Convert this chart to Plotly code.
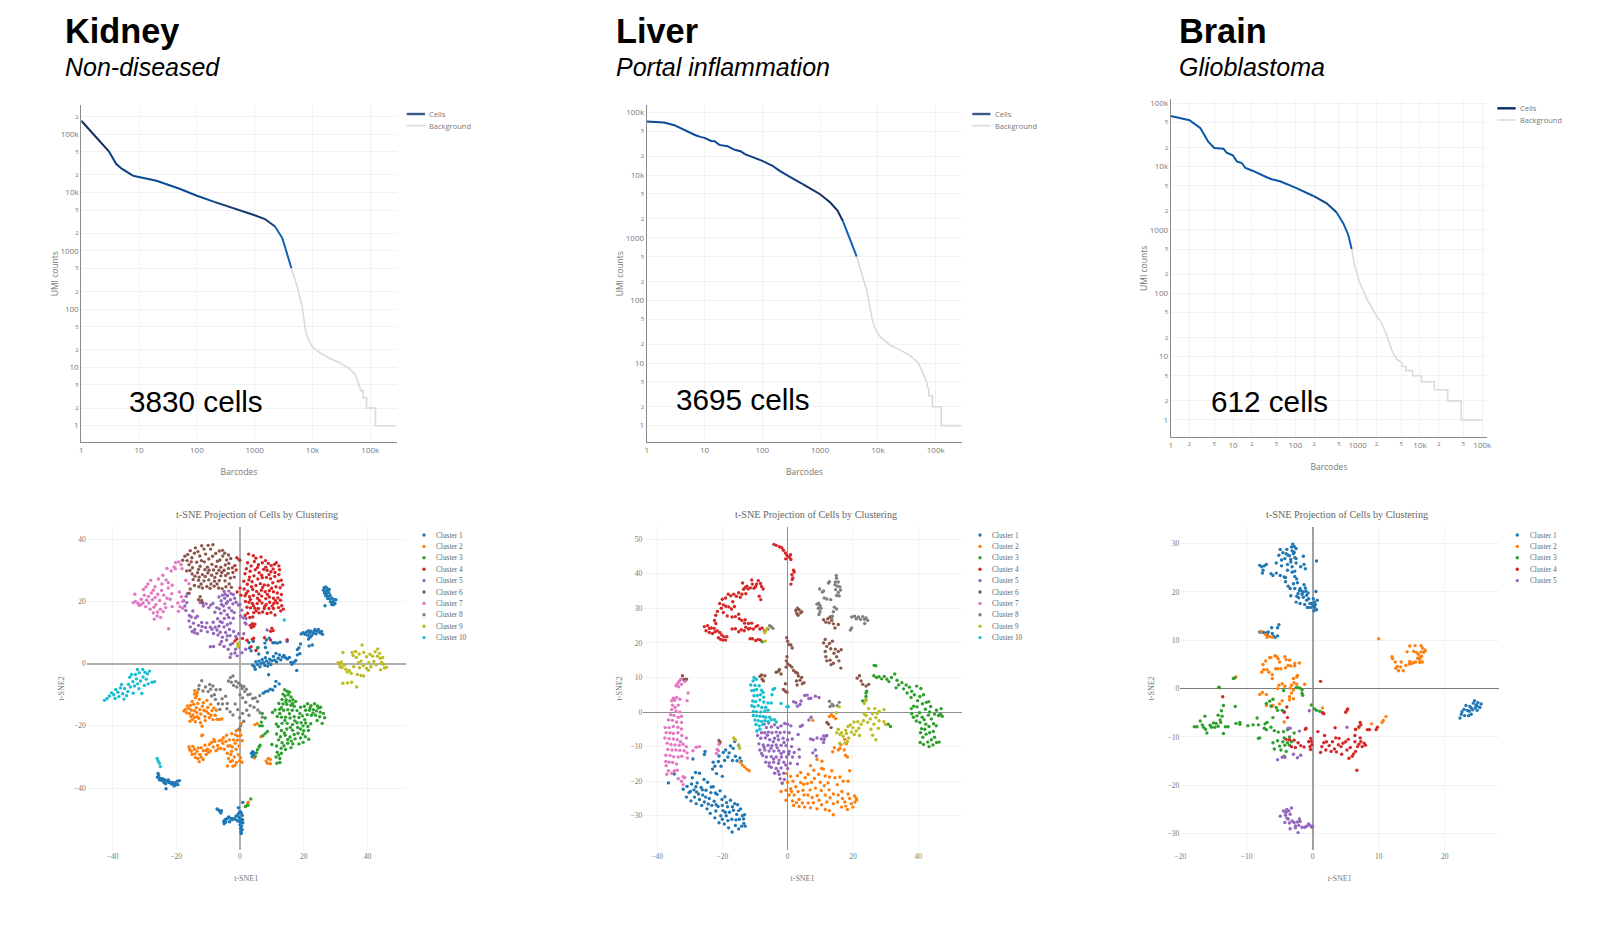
import plotly.graph_objects as go

W, H = 1600, 929
PALETTE = ["#1f77b4", "#ff7f0e", "#2ca02c", "#d62728", "#9467bd",
           "#8c564b", "#e377c2", "#7f7f7f", "#bcbd22", "#17becf"]

# ---- Barcode rank plots: rank and UMI count along each curve ----
KIDNEY_CELL_RANK = [1, 3, 4, 5, 7.8, 10, 20, 50, 100, 200, 500, 1000, 1500, 2000, 2250, 2500, 2750, 3000, 3250, 3500, 3900, 4325]
KIDNEY_CELL_UMI = [170000, 50700, 31000, 25600, 19400, 18400, 15900, 11600, 8800, 6900, 5200, 4070, 3500, 2870, 2600, 2200, 1900, 1650, 1280, 1000, 730, 500]
KIDNEY_BG_RANK = [4325, 5420, 6610, 7560, 8300, 9860, 13800, 20500, 30600, 42800, 55700, 64000, 69000, 75000, 75000, 86000, 86000, 123000, 123000, 275000]
KIDNEY_BG_UMI = [500, 244, 110, 44, 31.6, 22.7, 17.5, 14.1, 11.8, 9.6, 7.4, 5, 4, 4, 3, 3, 2, 2, 1, 1]

LIVER_CELL_RANK = [1, 2, 3, 5, 7, 8.5, 10, 13, 15, 18, 25, 33, 42, 50, 100, 150, 200, 300, 500, 700, 1000, 1500, 2000, 2500, 3000, 4300]
LIVER_CELL_UMI = [71800, 69300, 62800, 49700, 43400, 40800, 39400, 35200, 34800, 30400, 29000, 25400, 24100, 21600, 16900, 14100, 11700, 9400, 7200, 6100, 4960, 3650, 2720, 1815, 1180, 500]
LIVER_BG_RANK = [4300, 5230, 6380, 7780, 8900, 10900, 16200, 24100, 35900, 50000, 61000, 70000, 72000, 76000, 76000, 87500, 87500, 125000, 125000, 282000]
LIVER_BG_UMI = [500, 271, 147, 55, 35.9, 26.4, 19.4, 16.2, 13.1, 10.1, 6.9, 5, 4, 4, 3, 3, 2, 2, 1, 1]

BRAIN_CELL_RANK = [1, 2, 3, 4, 5, 7, 7.9, 9.9, 11.5, 13.8, 15.8, 18.3, 21, 34.7, 41.7, 56.8, 100, 195, 318, 460, 589, 708, 801]
BRAIN_CELL_UMI = [63000, 53900, 40300, 24800, 19700, 19200, 16600, 15100, 12100, 11400, 9500, 8860, 8540, 6790, 6310, 5870, 4660, 3440, 2640, 1880, 1270, 834, 500]
BRAIN_BG_RANK = [801, 906, 1060, 1390, 1900, 2430, 2920, 3510, 4230, 4900, 5100, 5100, 5960, 5960, 7620, 7620, 10600, 10600, 17000, 17000, 27800, 27800, 46000, 46000, 100000]
BRAIN_BG_UMI = [500, 264, 153, 83, 48, 33.6, 22, 12.7, 9.1, 8, 8, 7, 7, 6, 6, 5, 5, 4, 4, 3, 3, 2, 2, 1, 1]

# Rank at which each colour band of the cell curve ends
KIDNEY_BANDS = [(3, "#0f2a5c"), (7.8, "#0b3f86"), (200, "#0a4a99"), (2250, "#123a73"), (4325, "#0f62b5")]
LIVER_BANDS = [(33, "#0b4a99"), (500, "#0d3f85"), (2500, "#122f63"), (4300, "#0f62b5")]
BRAIN_BANDS = [(195, "#0b56a6"), (460, "#114a8c"), (801, "#0c5fb2")]

# ---- t-SNE projections: (t-SNE1, t-SNE2) of cells per cluster ----
KIDNEY_C1 = [(26.4,24.4),(26.9,24.6),(27.3,24.2),(26.2,23.6),(26.8,23.3),(27.4,23.5),(28,23.8),(26.5,22.7),(27.2,22.5),(27.9,22.8),(26.9,21.8),(27.6,21.6),(28.3,21.9),(27.5,20.9),(28.2,20.8),(28.9,21),(29.6,20.5),(30.1,20.5),(28.4,19.9),(29.1,19.8),(29.8,19.3),(29.3,18.9),(28.8,19),(26.7,18.6),
(19.2,9.5),(19.8,9.9),(20.4,9.4),(20.8,10.1),(21.3,9.1),(21.9,9.8),(22.3,10.4),(22.5,9),(23,9.7),(23.4,10.5),(23.9,9.6),(24.3,10.6),(24.8,10.2),(25.2,9.8),(25.6,10.3),(21.5,10.6),(22,8.5),(23.5,11),(24.6,11),(25.9,9.4),(21.5,7.9),(22.7,6),(21.7,5.7),(19,6.3),(18.5,5.1),(18,4.5),
(4,-0.5),(4.5,-1),(4.8,-1.8),(5,0.6),(5.5,-0.3),(6,0.8),(6.3,-1),(6.7,0.1),(7,1.3),(7.4,0.3),(7.8,-0.6),(8,1.9),(8.3,0.8),(8.7,-0.8),(9,0.2),(9.3,1.4),(9.7,-0.3),(10,0.9),(10.5,2.3),(10.9,1.1),(11.3,3.3),(11.5,0.5),(12,1.7),(12.4,2.8),(12.8,1.2),(13.3,2.1),(13.8,2.6),(14.3,1.9),(14.9,1.5),(15.5,2),(16,0.4),(16.5,0.2),(17,0.5),(17.5,1),(18,2.8),(18.8,3.2),(16.3,-0.2),(17.8,-2.2),
(2.8,6.8),(3,5),(3.5,4.1),(5.5,5),(5.9,3.1),(7.8,6.6),(8,5.2),(8.6,3.5),(10.3,6.7),(11,6.7),(11.8,6.6),(12.6,6.9),(14.8,7.2),(9.2,8.2),(8.3,7.6),(4.2,7.2),(9,-3.6),(8,-9),(8.8,-8.8),(9.5,-8.2),(10.3,-8.5),(11,-7.3),(11.3,-5.7),(12.3,-6.5),(7.3,-9.5),
(-25.7,-35.3),(-25.5,-36),(-25.9,-36.5),(-25,-36.9),(-25.3,-37.3),(-24.7,-37.5),(-24.3,-37),(-24,-37.8),(-23.6,-37.3),(-23.8,-38.3),(-23.3,-38.6),(-22.9,-37.7),(-22.5,-37.4),(-22.3,-38.2),(-21.8,-38.1),(-21.5,-38.7),(-21,-38.2),(-20.6,-38.6),(-20.3,-39),(-20,-38.1),(-19.6,-37.8),(-19,-37.6),(-19.5,-38.9),(-23.2,-40.2),(-20.7,-39.3),
(-7.2,-46.7),(-6.8,-47),(-6.3,-47.5),(-6,-48),(-5.8,-47.3),(-5,-51.5),(-5.1,-50.7),(-4.7,-50.2),(-4.3,-50),(-4.5,-51),(-3.8,-49.6),(-3.3,-50.8),(-3.5,-49.3),(-2.8,-49.8),(-2.5,-50.2),(-2.1,-49.8),(-1.5,-50),(-1.3,-49),(-0.8,-48.9),(-0.5,-48.2),(0,-47.5),(0.4,-48),(0.7,-48.8),(-0.2,-49.5),(0.3,-50),(0.8,-50.2),(-0.3,-50.7),(0.5,-51),(0.9,-51.2),(0,-51.8),(0.5,-52.3),(0.2,-53),(0.7,-53.4),(0.3,-54),(0.4,-54.6),(-0.8,-50.5),(-0.5,-46.3),(0.9,-44.6),
(3.6,-28.8),(4,-28.3),(4.1,-29.3),(3.8,-29.9),(4.4,-30),(4.5,-28.8)]
KIDNEY_C2 = [(-14.2,-8.7),(-14.3,-9.8),(-14,-11),(-13.6,-10.3),(-15,-12.2),(-14.5,-13.1),(-15.5,-13.4),(-16,-14.4),(-17,-14.7),(-17.6,-15.2),(-16.8,-15.8),(-15.9,-16),(-15.2,-15),(-14.8,-16.5),(-14.3,-17.3),(-15,-18),(-15.7,-18.5),(-14,-18.7),(-13.5,-15.8),(-13.7,-14.2),(-13.2,-12.8),(-12.8,-11.5),(-12.6,-14.8),(-12.3,-16.2),(-12.9,-17.6),(-12.4,-19),(-11.9,-20.1),(-11.5,-12.6),(-11.3,-15),(-11,-17),(-10.9,-18.3),(-10.4,-11.8),(-10.1,-14.1),(-9.9,-16),(-9.6,-17.4),(-9.2,-13.1),(-8.8,-15.1),(-8.5,-18),(-8.2,-14.3),(-7.8,-16.6),(-7.4,-15),(-7.2,-17.9),(-6.5,-18),(-5.7,-17.8),(-13.4,-9.3),(-16.5,-13.6),
(-16,-26.7),(-15.8,-27.6),(-15.3,-28.2),(-14.8,-26.6),(-15,-29.2),(-14.3,-27.5),(-14.1,-29),(-14,-30.2),(-13.5,-28.2),(-13.2,-30.5),(-12.8,-31.5),(-12.6,-29.2),(-12.2,-27),(-12,-23.2),(-11.7,-22.9),(-11.5,-28),(-11.6,-30.8),(-11,-26.2),(-10.6,-29.2),(-10.2,-27.5),(-9.6,-26),(-9.3,-28.1),(-8.9,-25.3),(-8.4,-26.8),(-7.9,-25),(-7.5,-28),(-7,-26.3),(-6.5,-24.8),(-6,-27.2),(-5.4,-25.6),(-5.2,-23.8),(-4.9,-27.5),(-4.4,-25),(-4.2,-23),(-4,-28.8),(-3.8,-26.5),(-3.6,-30.5),(-3.9,-32.9),(-3.3,-24.5),(-3,-31.5),(-2.9,-29.2),(-2.6,-22.5),(-2.4,-26.8),(-2.2,-33),(-2,-24.5),(-1.8,-30),(-1.4,-22.9),(-1.2,-27.5),(-1.1,-31.8),(-0.8,-24.6),(-0.5,-29.3),(-0.1,-31.2),(0,-21.5),(0.3,-23),(0.4,-19.2),(0.2,-30.2),(0.6,-31.7),(0.7,-24.8),(-0.4,-21.1),(-1.2,-21.6),
(8.2,-31.3),(8.9,-30.5),(9.5,-30.8),(8.6,-32),(9.5,-32.2),(4.5,-30.3),(4.7,-19.6),(5.4,-19.3),(6.6,-23.5),(2.6,-44.5),(2.4,-45),
(-13.1,-27.1),(-12.2,-30),(-10.7,-27.9),(-9.9,-28.6),(-8.2,-24.4),(-6.8,-27.4),(-5.7,-24.6),(-3.1,-26.4),(-2.4,-31.2),(-1.6,-32.7),(-1.5,-25.6),(-2.6,-28.2),(-0.3,-26.5),(-0.7,-23.3),(-15.4,-17),(-13.4,-17.1),(-10.6,-15.3),(-11.8,-13.7),(-9.1,-16.6),(-14.2,-15.2)]
KIDNEY_C3 = [(13.5,-9.8),(14,-8.4),(14.8,-8.9),(15.5,-9.2),(14.1,-10.4),(15.1,-10),(16,-10.7),(13.2,-11.5),(14.5,-11.6),(15.6,-12),(16.6,-11.6),(17.5,-12.2),(12.2,-12.8),(13.5,-13),(14.7,-13.1),(16,-13.4),(17,-13.7),(11,-14.9),(12.4,-14.7),(13.7,-15),(15,-14.8),(16.4,-15),(17.9,-15.1),(19,-14),(20.2,-13.7),(21.2,-12.9),(22.3,-13.5),(23.4,-12.9),(24.3,-13.6),(25.3,-14),(20.6,-15),(21.8,-15),(23,-14.8),(24,-15.2),(25.2,-15.6),(26.2,-16),(21.1,-16.4),(22.4,-16.6),(23.7,-16.6),(25,-17.1),(26.6,-17.4),(24.2,-18.3),(25.8,-19.2),(10.2,-15.7),(7.9,-17.5),(7,-16),(6.7,-18.8),(6.2,-20),(7,-20),(11.7,-17),(13,-17.2),(14.3,-17.2),(15.7,-17.5),(17,-17.1),(18.5,-17.3),(19.6,-16.8),(20.3,-18),(19.2,-19),(17.9,-19),(16.5,-19.6),(14.8,-19.2),(13.2,-19.2),(12,-20.2),(18.1,-20.5),(19.8,-20),(21.3,-20.2),(22.2,-19.3),(21.5,-21.5),(20,-21.6),(18.2,-22.4),(16.5,-21.4),(14.7,-21),(13,-21.5),(11.5,-22.6),(7.9,-22.5),(8.6,-21.8),(7.2,-23.2),(12.7,-23.5),(14.2,-23),(15.7,-23.6),(17.3,-24.2),(19,-23.9),(20.5,-23.5),(21.6,-24.3),(19.8,-25.3),(18.5,-25.8),(16.6,-25.8),(15,-25.6),(13.2,-25.4),(10,-26),(11.5,-26.5),(12.9,-27.2),(14.3,-27.6),(16,-27),(11.7,-28.5),(13,-28.8),(12.5,-30.5),(11.3,-30),(11.6,-32),(12.5,-31.8),(5.5,-27.7),(5.2,-28.7),(4.8,-29.8),(5.7,5.2),(6,-26.8),(6.3,-26.2),(3.4,-43.5),(2.5,-45.5),(1.7,-45.9),
(14.4,-12.3),(16.5,-12.8),(13,-14.2),(15.5,-16.1),(12.5,-16),(18.8,-16),(22.9,-15.9),(24.6,-14.3),(22,-14.2),(17.2,-18.4),(14.1,-18.3),(11.4,-19.4),(15.8,-20.5),(20.6,-19.1),(19,-21),(13.9,-22.3),(17,-22.8),(15,-24.4),(19.7,-22.6),(12.1,-24.5),(16.1,-24.9),(13.8,-26.4),(12.2,-29.4)]
KIDNEY_C4 = [(2.7,35.2),(4.2,34.7),(5,33.9),(6.6,34.3),(2.4,32.4),(3.5,31.4),(4.5,32.8),(5.8,31.8),(7,32.4),(8,33.1),(8.9,32.2),(9.8,31.5),(10.8,31.9),(11.4,32.4),(12.2,31.4),(2,30.5),(3.2,29.7),(4.8,30.2),(6,29.2),(7.4,30.3),(8.5,30),(9.7,29.5),(11,29.3),(12.4,30.2),(1.6,28.9),(3,27.8),(4.4,28.2),(5.6,27.2),(7,27.6),(8.3,27.7),(9.6,27.3),(10.9,28),(12.2,28.6),(12.9,26.8),(12,26.5),(13.4,25.3),(1.2,26.5),(2.3,25.5),(3.8,26.3),(5,25.1),(6.4,25.7),(7.6,25.3),(8.8,25.2),(10.3,26),(11.3,24.7),(12.6,24.4),(0,24.3),(1.3,24),(2.5,23.3),(4,23.8),(5.2,23.2),(6.7,23.6),(7.9,23.1),(9.2,23.4),(10.5,23.1),(11.7,22.7),(13,22.2),(-0.9,23),(0.3,22),(1.6,21.8),(3,21.5),(4.2,21.9),(5.5,21),(6.8,21.7),(8.1,20.9),(9.2,21.4),(10.5,21),(11.9,21.1),(12.7,20.4),(1.7,20),(2.8,19.7),(3.9,19.3),(5.4,19.3),(6.9,19.5),(8.2,19),(9.3,19.7),(10.6,19.3),(11.7,19.5),(13.1,18.6),(13.6,17.5),(2.2,18.1),(3.3,17.9),(4.7,17.8),(5.8,17.7),(7.6,17.7),(9.1,17.7),(10.5,17.7),(12.8,16.9),(2.4,16.2),(4.3,16.4),(6,16.3),(8.5,16.1),(9.7,16.4),(11,15.6),(1.6,15.5),(4,15),(3.9,12.8),(4.3,12),(3.2,12.3),(3.6,11.6),(4.7,12.7),(10,11.4),(9.6,10.4),(10.4,10.6),(-1,7.9),(-1.6,7.3),(0.8,8.1),(2.2,7.5),(3.9,7.8),(4.3,8.2),(7.7,8.3),(9.6,7.6),(14.8,7.7),(3.5,5.4),(5,4.2),(-1,34),(-0.3,33.4),(-1.6,31.5),(-1.2,30.1),
(5.5,30.9),(6.8,28.4),(9.1,28.6),(3.6,24.7),(7.1,24.5),(9.9,24.2),(2,22.6),(5.9,22.4),(8.6,22.2),(11.1,20.2),(3.3,20.6),(6.1,20.3),(7.8,18.4),(4.2,18.6),(10.1,18.5),(12.1,18),(5.1,16.9),(7.1,16.6),(3.1,14.8),(8.1,31),(10.4,30.4),(2.8,26.9)]
KIDNEY_C5 = [(-16.5,22.5),(-16.9,21.6),(-17.7,20.2),(-16.7,19.6),(-17.3,18.5),(-17,17.1),(-15.9,15.5),(-15.3,15),(-14.8,16.9),(-14,14.7),(-13.4,15.2),(-14.6,13),(-16,13.7),(-15.6,11.8),(-15,10.3),(-14.2,11),(-13.3,9.6),(-12.2,10.6),(-13,12.3),(-12,13.2),(-11.5,18.5),(-12.5,19.6),(-10.6,19.2),(-9.8,18),(-9.3,11.7),(-10.2,10.2),(-8.8,11),(-7.8,11.7),(-7.2,10.8),(-6.6,12),(-6.2,10.1),(-8.5,19.3),(-7.3,18),(-7.9,16.5),(-6.5,17.6),(-5.9,20.2),(-6.6,21.4),(-5.5,22),(-5,23.2),(-4.8,21),(-4.3,19.3),(-5.2,18.5),(-3.9,21.8),(-3.5,23.3),(-3,20.5),(-2.8,22.5),(-2.2,19.2),(-1.7,21),(-1.2,19.7),(-0.5,18.8),(0,19),(0.6,17.2),(-3.4,17.9),(-2.6,17),(-1.8,16.4),(-4,15.7),(-4.9,14.5),(-3.5,14.8),(-5.6,13.2),(-5,11.8),(-4,12.5),(-3,13),(-4.5,10),(-5.5,8.5),(-5.8,7.1),(-6.3,6.2),(-5,5.5),(-4.2,7.6),(-3.7,4.6),(-3,6.1),(-3.1,9),(-2,10.3),(-1.3,8.7),(-0.4,9.6),(1.2,9.6),(-2.3,6.5),(-1.4,4.6),(-2.8,3.1),(-1.6,3.4),(-0.9,2.5),(-0.5,5.3),(0.6,3.5),(1.8,4.6),(-3.1,2),(-9.3,5.4),(-8.3,5.5),(0.2,15.3),(1,14.7),(1.9,14.5),(1.9,12.7),(1.6,13.1),(8.5,10.8),(-10.4,13.1),
(-4.6,22.3),(-3.9,19.9),(-4.9,17),(-6,16.2),(-7,14.4),(-10.8,11.6),(-11.9,11.9),(-8.3,9.7),(-6.9,9.2),(-9.2,18.8),(-2.1,14.6),(-3.3,11),(-6.2,13.5),(-8.4,13.3),(-5.8,19),(-2.1,22.2),(-14.2,9.9),(-4,8.9)]
KIDNEY_C6 = [(-18,33.2),(-17.3,34.5),(-16.6,33.1),(-16.4,35.1),(-15.6,36.3),(-15.1,34),(-14.3,35.5),(-14,37.2),(-13.2,36),(-12.6,34.6),(-12,37.9),(-11.3,36.8),(-10.8,35.2),(-10,38),(-9.2,36.8),(-8.5,38.2),(-8.6,34.5),(-9.8,33.6),(-7.6,35.4),(-6.5,36.2),(-5.5,36.4),(-5.4,34.6),(-6.3,33.3),(-4.8,35.5),(-3.6,34.9),(-2.9,33.8),(-3.5,32.2),(-4.6,31.7),(-16,31.8),(-14.9,30.8),(-13.6,32.6),(-12.5,31.3),(-11.2,32.7),(-10.2,31),(-8.8,31.9),(-7.5,31.2),(-6,31),(-5,30),(-3.6,30.6),(-2.4,30.8),(-2.2,29.3),(-16.7,29.8),(-15,28.8),(-13.3,29.2),(-11.8,28.6),(-10.1,29.1),(-8.9,28.4),(-7.3,29),(-6,28.2),(-4.5,28.3),(-3,27.5),(-1.8,27.8),(-14.7,27),(-13,26.8),(-11.3,26.6),(-9.8,26.9),(-8,26.5),(-6.5,26.7),(-4.7,26.6),(-3.4,25.6),(-2.7,24.5),(-14.3,25.1),(-12.9,24.7),(-11.8,24.3),(-10.4,24.8),(-9.4,24.2),(-8.1,24.9),(-6.7,24.3),(-5.6,24.1),(-4.4,24.7),(-15.6,24),(-16,22.6),(-12.5,21.5),(-12,20.3),(-11.7,19.5),(-13,20.5),(0,33.2),(-12.8,27.8),
(-15.3,32.7),(-12.1,33.1),(-13,30.3),(-9.7,30),(-7.1,32.9),(-5.7,29.3),(-7.9,27.7),(-10.9,28),(-15.7,29.9),(-12.2,25.6),(-7.2,25.6),(-9.1,25.6),(-4.2,33.3),(-11,30.2),(-8.3,30.1),(-14.1,28.1),(-3.7,29),(-6.6,30)]
KIDNEY_C7 = [(-33.5,19.6),(-32.8,20),(-32,19.4),(-31.7,18.7),(-33,22.3),(-31,20.7),(-30.4,19.5),(-30,22),(-29.6,18.3),(-30.3,23.8),(-29.5,24.6),(-28.7,21.6),(-28.6,19.5),(-28.2,17.5),(-28.9,25.6),(-28,26.8),(-27.8,22.7),(-27.5,20.5),(-27.2,16.3),(-26.9,14.3),(-26.7,24.7),(-26.4,18.9),(-26,15.3),(-25.8,22.3),(-25.6,27.2),(-25.2,20.3),(-25,17.5),(-24.9,14.8),(-24.5,25.6),(-24.2,28.4),(-23.9,22),(-23.6,19.2),(-23.3,18),(-22.9,30.6),(-22.5,26),(-22.5,24.3),(-21.9,20.7),(-21.6,29.8),(-21.4,22.5),(-21.3,18.3),(-22.4,11.2),(-20.7,31.1),(-20.2,32.5),(-19.2,32.7),(-18.2,30.5),(-18.8,18.3),(-19.5,19.5),(-18.4,21.5),(-19,23),(-18,20),(-19.3,16.8),(-18,17.8),(-17,26.8),(-16,25.7),(-18.5,31.8),
(-27,18.1),(-25.9,16.6),(-24.1,16.7),(-24.6,23.5),(-23.2,26.9),(-27.2,23.6),(-29.3,20.4),(-22.9,21),(-20.3,30.5),(-21.3,25.2),(-26.6,21.3),(-31.1,18.9)]
KIDNEY_C8 = [(-12,-5.5),(-12.8,-7),(-13,-8.2),(-11.6,-8.8),(-10.8,-7.5),(-10,-9),(-9.5,-6.7),(-9.2,-8.2),(-8.5,-7.2),(-8.9,-10.4),(-8,-10),(-7.5,-8.4),(-7.7,-11.5),(-6.8,-12.9),(-6.2,-8.3),(-5.6,-11.3),(-6.3,-14.7),(-5.5,-13),(-4.5,-10.5),(-4.1,-14.5),(-3.6,-5.6),(-4,-12.8),(-3,-4.5),(-2.7,-6),(-2.2,-4),(-2,-7),(-1.3,-5.7),(-1,-7.5),(-3.1,-15.5),(-2.2,-16.5),(-1.5,-13),(-0.7,-14.8),(-0.4,-6.3),(0.3,-7),(0.7,-8),(1.2,-7.3),(1.5,-9),(2,-8.2),(2.5,-10),(0,-10),(0.8,-11),(1.8,-12.4),(3.2,-9.8),(4,-11.2),(4.8,-11),(5.5,-12.2),(6.2,-10.3),(3.2,-13.5),(2.1,-15),(0.8,-16),(-0.1,-17.4),(4.4,-14),(5.6,-14.9),(2.8,-16.6),(1.2,-18.5),(0.2,-20),(-0.2,-21),(6.3,-15.8),(7,-17.2)]
KIDNEY_C9 = [(30.8,0.3),(31.3,-0.2),(31.8,0.5),(31.4,-1),(32,-1.3),(32.3,3.6),(32.7,-0.5),(33.2,-1.8),(33.7,-2.7),(34.3,-2.2),(34.9,-3.1),(33.7,-6.2),(32.3,-6.3),(35,-6),(35.2,3.6),(35.5,2.6),(35.7,-1),(36.3,3.9),(36.5,2),(36.8,-3.5),(37.4,3.1),(37.2,0.3),(37.5,-1.3),(38,-3.8),(38,0.8),(38.3,6),(38.8,3.6),(38.7,-0.6),(38.8,-4),(39.7,2.2),(39.7,-1.5),(40.4,0.3),(40.3,-2.1),(40.8,3),(41.6,2.4),(41.1,-1),(42,0.7),(42.4,3.8),(42.7,-0.4),(43.1,2.4),(43.2,4.7),(43.8,3.3),(44,1.7),(44.4,0.4),(45,-0.2),(45.3,-1.4),(46,-1.2),(44.8,2),(44.1,-2),(36.6,-7.5),(-0.7,6.2),(-0.6,5.5),(-0.5,6.6)]
KIDNEY_C10 = [(-42.5,-11.8),(-41.7,-11.2),(-41,-10.4),(-40.3,-9.4),(-39.6,-10),(-39.2,-11.2),(-39,-8.3),(-38.3,-9.2),(-38,-10.6),(-37.5,-7.8),(-37.2,-6.7),(-36.8,-9.7),(-36.4,-11.4),(-36.2,-8),(-35.6,-10.3),(-35.2,-9),(-35,-6.6),(-34.6,-4.4),(-34.4,-7.5),(-34,-3.5),(-33.5,-9.5),(-33.6,-5.8),(-33.1,-7.2),(-32.8,-3.5),(-32.5,-4.9),(-32.2,-1.9),(-32.1,-6.5),(-31.7,-8.1),(-31.6,-2.9),(-31.2,-5.6),(-30.8,-9.6),(-30.5,-1.9),(-30.4,-4.3),(-30,-7),(-29.8,-2.8),(-29.4,-5),(-29,-3.3),(-28.8,-6.5),(-28.4,-2.4),(-27.6,-6),(-26.8,-5.8),(-26,-30.5),(-25.7,-31.3),(-25.3,-32),(-25,-33.1),(13.9,14)]

LIVER_C1 = [(-32,-22.3),(-31,-24.6),(-30.8,-21.5),(-30.2,-23.3),(-29.6,-25.7),(-29.4,-20.8),(-29.2,-19),(-28.7,-22.5),(-28.5,-24.6),(-28,-26.5),(-27.7,-20.5),(-27.3,-23.7),(-27,-25.3),(-26.5,-21.8),(-26.3,-27),(-26,-24),(-25.6,-19.5),(-25.5,-26),(-25,-22.6),(-24.7,-28),(-24.5,-20.3),(-24,-25),(-23.7,-29.3),(-23.5,-23.3),(-23.2,-27),(-22.8,-21.6),(-22.5,-25.8),(-22.3,-30.6),(-22,-28.6),(-21.6,-23.8),(-21.3,-27.3),(-21,-32),(-20.7,-22.8),(-20.5,-30),(-20.1,-25.3),(-19.8,-28.5),(-19.4,-32.4),(-19.2,-24.5),(-18.8,-30),(-18.4,-27.4),(-18.1,-33.5),(-17.8,-29),(-17.5,-25.5),(-17.1,-31),(-17,-34.7),(-16.6,-28.4),(-16.2,-26.5),(-16,-32.8),(-15.6,-29.6),(-15.3,-26.8),(-15,-33.8),(-14.8,-31),(-14.4,-28),(-14.1,-33),(-13.9,-30),(-13.4,-32.2),(-13.2,-29.7),(-13,-33),
(-36.5,-20.5),(-34.7,-17.9),(-28.2,-17.5),(-27,-17.7),(-29,-13.6),(-25.3,-11.4),(-25.5,-12.3),(-22.8,-14.5),(-23,-16.5),(-22.3,-15.7),(-21.8,-17.8),(-21.2,-14.3),(-21,-12.7),(-20.4,-15.7),(-20,-18.6),(-19.7,-11.7),(-19.3,-14),(-19,-11),(-18.3,-13),(-17.9,-11.8),(-17.5,-9.8),(-16.7,-10.5),(-16.2,-8.5),(-16,-12.8),(-15.5,-14.1),(-15,-9.6),(-14.6,-13.3),(-14.2,-14.3),(-16.9,-14),
(-29.8,-23),(-27.9,-23.1),(-26.1,-22.5),(-24.3,-26.6),(-22.1,-23.4),(-21.9,-26.8),(-20,-27),(-18.7,-26.2),(-20,-31),(-18.3,-31.4),(-15.8,-31.2),(-16.9,-27.4),(-15,-28.5),(-13.5,-30.9),(-25.1,-24.6),(-23.4,-21.7),(-19.1,-29),(-28.1,-21.6)]
LIVER_C2 = [(-0.3,-17.8),(0.9,-18.6),(-1.6,-20.5),(0,-20.3),(1.6,-20),(3,-18.4),(4,-17.5),(-0.5,-22.6),(0.9,-22.2),(2.5,-21.6),(4,-20.4),(5.4,-19),(6.3,-18),(7,-15.5),(8,-16.8),(9,-13.7),(9.5,-18),(10.5,-14.2),(11,-16.5),(-2,-23),(0.5,-24),(2,-24),(3.2,-23),(4.7,-22.6),(6,-20.7),(7.3,-20.3),(8.5,-22),(10,-20.3),(11.5,-18.5),(12.4,-20.5),(13.5,-17),(14.5,-19),(15.2,-21),(16,-18.8),(17,-20),(19,-17),(18.5,-20),(-0.5,-25.5),(1.5,-25.7),(3.5,-25.3),(5,-24),(6.3,-26.3),(7.5,-24.7),(9,-24.2),(10.3,-22.7),(11.5,-24),(12.7,-22.5),(14,-23.7),(15.5,-24),(16.6,-23),(1.8,-27),(3.5,-27.3),(5.2,-27.5),(7,-27.7),(9,-28),(10.4,-26.8),(11.5,-28.2),(12.8,-28.5),(14,-29.7),(14,-26.5),(15.3,-26),(16.5,-27.5),(17.5,-26),(18.3,-28.2),(19,-25),(19.5,-26.5),(20,-27.5),(20.6,-26),(21.2,-25.4),(20.5,-24.3),(21,-25),(18.5,-23.7),
(12.8,-1.3),(13.4,-0.8),(14,-1.3),(14.7,-1.9),(7.7,-2.4),(-14.5,-14.5),(-13.9,-15.3),(-13.2,-15.9),(-12.5,-16.5),(-11.8,-17),(13.8,-11.5),(14.3,-10.3),(15.5,-11),(16.3,-9.5),(17.3,-11),(17.7,-12.5),(18,-9.2),(18.3,-13),(17.5,-7.9),(16,-10.5),
(1.2,-23),(2.7,-26.2),(4.5,-26.3),(6.2,-24),(7.9,-26.2),(8.2,-19.2),(9.6,-25.5),(12,-26),(13,-24.8),(6.9,-22.5),(4.9,-20.9),(12.8,-18.8),(11.2,-21.3),(16.8,-25),(17.8,-27.2),(10.4,-16.3)]
LIVER_C3 = [(26.5,13.5),(27,13.4),(26.4,10.5),(27.2,10),(28,10.2),(28.8,9.6),(29.6,10.3),(30.4,9.5),(31,8.8),(31.8,10),(32.8,11),(33.5,9.2),(34,7.8),(33.2,7),(35,8.5),(35.5,6.7),(36.3,7.8),(36.6,5.5),(37.3,7.2),(37.8,4.2),(38,6),(38.8,5),(39.5,7.5),(39.8,3.3),(39.6,1.5),(40.5,4.5),(40.8,6.8),(41.3,2.4),(41.6,5),(42.2,0.8),(42.5,2.8),(38,-0.5),(38.6,1.7),(37.9,1),(43.2,3),(43.5,0),(43.8,1.6),(38.5,-1.5),(39.6,-1.1),(40.4,-0.2),(41.2,-1.5),(41.8,-2.2),(39.4,-2.6),(40.5,-3),(42.3,-3.5),(43.1,-0.9),(44,-2),(45,-0.6),(45.6,0.5),(46.2,-1),(46.8,-0.6),(47.3,-1.2),(47,1),(44.7,-3.4),(43.3,-4.2),(42,-5),(41,-4.8),(40.7,-6),(41.4,-7.3),(42.4,-6.4),(43.5,-6),(44.6,-5.6),(45.5,-4),(40.6,-8.8),(41.6,-9.4),(42.9,-8.7),(44,-8),(44.5,-9.5),(45.6,-8.8),(46.4,-8.7),(43.3,-10),(45,-7.3),(24,3.5),(24,4.5),(24,5.5),(24.2,6),(23,3.2),(-7.8,20.3),(31.5,-4.2),(30.8,-3.5)]
LIVER_C4 = [(-4.2,48.5),(-3.5,48.2),(-2.5,47.8),(-1.8,47.5),(-1.3,46.8),(-0.7,46),(-0.2,45.3),(0.5,44.8),(1,44.1),(-0.6,44.3),(0.9,45.5),(1.8,41),(2,40.5),(1.3,39.7),(1.4,38.3),(1,37),(1.6,38.8),
(-7.5,35.6),(-8,36.3),(-8.3,37.2),(-9,38),(-9.5,37),(-9.8,36.3),(-10.3,35.8),(-10.8,37),(-11,38.2),(-11.4,35.9),(-12.1,35.6),(-12.5,36.4),(-13,36),(-13.5,35.5),(-13.8,37.3),(-12.8,34.2),(-14,34.1),(-14.5,33.2),(-15,34.5),(-15.7,33.5),(-16.5,34.1),(-17.4,33.6),(-18.2,34.1),(-19,33),(-20,32.6),(-20.8,31.4),(-19.7,31),(-18.9,30.6),(-18,30.4),(-17.2,29.8),(-16.3,30.5),(-16.8,31.9),(-20.3,30),(-19.7,28.8),(-18.5,27.8),(-17,27.5),(-16,27.6),(-15,28.3),(-14.8,27),(-14,26.5),(-13,26.7),(-13.2,25.7),(-12,25.6),(-11,25.7),(-8.2,32.5),(-8.7,33.5),(-21.5,29.1),(-22,28),(-22.4,26.5),(-22,25.6),
(-25.5,24.7),(-25,23.5),(-24.5,25),(-24,24.2),(-24,23),(-23.4,24.3),(-23,22.7),(-22.5,24.2),(-22.2,23.2),(-21.6,23.5),(-21.2,21.5),(-20.8,23),(-20.2,22.3),(-20.5,21),(-19.8,20.8),(-19.5,21.8),(-19,20.8),(-18.6,21.8),(-17,24),(-16,24.1),(-15,23.2),(-14.2,23.8),(-13.3,23.5),(-12.8,24.5),(-12,24),(-11.5,24.2),(-10.5,24),(-9.7,24.7),(-9.2,25),(-8.5,24),(-7.8,24.3),(-7,23.5),(-11.5,21.2),(-10.8,21.2),(-9.8,20.7),(-9,21),(-8.3,20.8)]
LIVER_C5 = [(-7.2,-3.5),(-6.5,-4.5),(-5.8,-3.2),(-5,-4.3),(-4,-3.7),(-3,-4.5),(-2,-4),(-0.9,-3.3),(0,-3.5),(1,-4),(-8,-6),(-7,-6),(-5.9,-5.8),(-4.8,-6),(-3.5,-5.8),(-2.3,-6),(-1,-5.8),(0.5,-6),(-9.2,-6.8),(-8.2,-7.6),(-6.8,-7.5),(-5.5,-8),(-4,-7.6),(-2.8,-8),(-1.4,-7.6),(0,-8),(1.4,-7.8),(3.2,-6.5),(-8.8,-9.2),(-7.5,-9.5),(-6,-9.6),(-4.8,-9.7),(-3.5,-9.5),(-2,-9.6),(-0.5,-9.7),(1.2,-10),(-8.5,-11),(-7,-11),(-5.7,-11.3),(-4.2,-11.3),(-2.7,-11.2),(-1.2,-11.5),(0.5,-11.4),(2,-11.7),(3.5,-10.8),(-7.6,-12.6),(-6.5,-13),(-5,-12.9),(-3.5,-13),(-1.9,-13),(-0.3,-13),(1.5,-13),(3.6,-13),(-6.7,-14.5),(-5.6,-14.7),(-4.3,-14.5),(-2.8,-14.8),(-1.2,-14.5),(0.8,-14.8),(3,-15),(-5,-16),(-3.5,-16.3),(-2,-16.2),(0,-16.3),(-4,-17.7),(-2.6,-18),(-1.2,-17.7),(-2.3,-19.3),(-1,-19.5),(-1.7,-20.6),(3.9,-4.2),(4.5,-3.8),(6.5,-2.3),(7.2,-1.5),(7,-7.8),(7.8,-8),(9,-7.5),(10.3,-7.8),(11,-6.9),(11.2,-7.9),(11.6,-7),(11,-8.8),(12,-6.8),(7.7,-11.8),(8.5,-11),(8.8,-12.7),(1.8,3),(2.5,2.7),(3,1.7),(3.8,2.2),(4.1,3.2),(5.2,4.8),(6,4.9),(6.5,3.9),(7.1,4),(8.5,4.6),(9.6,4.2),(-2,-12),
(-6.2,-6.7),(-4.4,-8.6),(-3,-6.9),(-1.1,-8.8),(-7.2,-10.2),(-5.1,-10.5),(-3.2,-10.3),(0.3,-12.2),(-8,-12),(-4.3,-13.6),(-2.6,-13.9),(-0.6,-15.3),(-5.7,-15.6),(-2.9,-17.1)]
LIVER_C6 = [(-0.3,21.5),(0,20.5),(0.4,19.5),(1,19.4),(1.4,18.5),(-0.2,16),(-0.4,14.8),(0,14),(0.7,13.5),(1.3,13),(-0.5,13),(1.8,12),(2.5,11.5),(3,11.2),(3.3,10.4),(3.8,9.2),(4.5,8.2),(5,8.5),(4.3,10),(2.7,9),(2.9,7.8),(-3.5,11.5),(-2.8,11.8),(-2,11),(-2.5,12.3),(-0.7,8.2),(-0.7,6),(-1.3,6.5),(-0.2,5.7),(-8.5,10.3),(-7.8,9.5),(-8,10.7),(-7,10.5),(-7.4,9),(2.5,29.4),(2.8,28.5),(3.5,29.6),(3.2,28),(4,28.7),(4.3,29),(3,30),
(11,26.7),(11.7,26),(12.3,27),(12.7,25.8),(13,27.5),(13.5,26.5),(14,25.5),(14.5,24.3),(15.5,25.3),(11,20),(11.5,21),(12,19),(12.8,19.8),(13.2,18.3),(13.7,20.5),(11.5,17.5),(11.7,16),(12,14.8),(13,15),(14.2,17),(14.6,18.2),(15,16),(15.5,17.5),(15.7,14.8),(14,14.1),(16.3,12.7),(13.3,13.7),(16.4,18),(21.3,9.8),(22,10.5),(22.5,9),(23,8),(24,7.5),(24.8,8),(12,-3),(12.5,-3.5),(13.3,-4.5),(-21,-8.2),(-20.7,-8.8),(-32.2,10.5),(-31,9.5),(-31.8,9.4)]
LIVER_C7 = [(-32.7,9.5),(-33.2,8.9),(-33.7,8.3),(-32.5,8),(-33.4,7.3),(-34.2,7.6),(-31.5,8.8),(-30.5,5.5),(-35,4),(-35.5,3.3),(-34.6,3.4),(-34,4.2),(-33,3.7),(-30.8,3.3),(-35.3,2),(-34.5,1.4),(-33.5,2),(-35.5,0.7),(-34.2,0.3),(-33,0),(-35.8,-0.8),(-34.8,-1),(-33.5,-1.5),(-32.5,-1.2),(-36.5,-2.3),(-35.3,-2.4),(-34,-2.9),(-32.5,-3),(-37.5,-4.5),(-36.3,-4.5),(-35,-4.2),(-33.6,-4.4),(-32.5,-4.9),(-37.2,-6),(-36,-6),(-35,-6.2),(-33.6,-6),(-32.4,-6.8),(-31,-7.5),(-37.6,-7.5),(-36.3,-7.7),(-35,-7.8),(-33.8,-8),(-32.8,-8.6),(-36.9,-9),(-35.7,-9.4),(-34.5,-9.5),(-33.2,-9.6),(-32,-9.3),(-31,-10),(-36.7,-10.8),(-35.4,-11),(-34.2,-11),(-33,-11.1),(-31.7,-11.2),(-30.8,-11.8),(-37.3,-12.5),(-36,-12.6),(-34.9,-12.9),(-33.5,-13),(-32.4,-12.8),(-30.7,-13.3),(-37.3,-14.3),(-36.3,-14.5),(-35.2,-14.6),(-34,-15),(-37.2,-15.5),(-36.5,-17),(-35.5,-17.7),(-34.7,-17),(-33.8,-16.8),(-37,-18),(-33.5,-19.3),(-32.5,-20),(-32,-18.7),(-32,-21),(-31.5,-19),(-29,-11.2),(-28,-10.2),(-27,-10),(-21.6,-10.8),(-21.2,-11.2),(-21,-9.3),(-21.8,-12)]
LIVER_C8 = [(14.9,39.5),(15,38.7),(14.6,37.6),(15.5,37.6),(14.5,36.8),(15.3,36.4),(16,36.2),(14.7,35.4),(16.2,35.3),(15.5,34.6),(15,33.7),(15.8,33.6),(12.5,37.3),(12.8,37.7),(10.6,34.7),(9.8,35.6),(11,35),(9.5,31.5),(9,31.2),(9.9,30.8),(9.4,30),(10.2,30),(11.2,33),(12,32.7),(13.2,32.5),(14.3,30.3),(14,29),(13.7,27.7),(13.5,27),(15,29.8),(9.9,29),(9.6,28.2),(19.6,27.5),(20.5,27.7),(21,27),(21.7,27.5),(22.3,26.8),(23,27.6),(23.5,26.8),(24,27.2),(24.5,26.5),(23.6,25.6),(19.2,23.7),(19.6,24.3),(-5.5,25),(-5,24.7),(-4.5,24.2),(-6,24),(12.8,3.1),(13.6,2.3),(14,1.8),(15.2,1.8),(15.8,2.8),(13,1.6)]
LIVER_C9 = [(15,-6),(15.5,-5),(16,-6.5),(16.5,-6),(17,-7),(17.8,-5.3),(18.5,-4.2),(18,-6.2),(18.7,-7.5),(19.2,-3.7),(19.5,-5.8),(20,-4.5),(20.3,-2.9),(20.4,-6.5),(21,-5.5),(21.5,-2.8),(21.8,-4.7),(22,-6.8),(22.5,-3.5),(23.2,-2.5),(23.4,-0.5),(23.5,2.5),(24,-1),(24.5,-3),(24.8,1),(25.3,-2),(25.5,-5),(26,-0.5),(26,-6.7),(26.4,-3.5),(26.7,1),(27,-1.6),(27.4,-0.4),(27.8,-4.7),(28,-2.5),(28,0.2),(29.5,0.7),(29.5,-2.8),(27,-8),(30,-3.6),(16,-9),(17.5,-9),(18.3,-8.5),(-7,22.9),(-6.7,23.6),(-6.3,24.2),(-6.9,20.5),(-16,-8),(-15,-9.5),(-14.7,-10.5),(-16.5,-7.5),(15.8,1.5),(15,-0.2),(23.8,3.5)]
LIVER_C10 = [(-11.3,7.8),(-10.6,9),(-10.3,10),(-9.6,9.5),(-10,7.7),(-11,6.2),(-10.3,6.3),(-9.5,6.5),(-8.7,7.6),(-8,6.3),(-7.5,5.7),(-10.3,4.7),(-9.3,4.8),(-8.3,5),(-7.3,4.3),(-10.7,3.2),(-9.8,3),(-8.5,3.5),(-7.3,2.9),(-6,2.6),(-5,2.6),(-11,1.8),(-10.2,1.5),(-9,1.8),(-7.9,1.3),(-6.7,1.4),(-10.5,0.2),(-9.5,0.1),(-8.2,0),(-7,0.3),(-6,0.5),(-10.5,-1),(-9.5,-1.1),(-8.5,-1.2),(-7.5,-1.3),(-6.7,-1.5),(-5.5,-1.5),(-10,-2.3),(-9,-2.5),(-8,-2.7),(-7,-2.5),(-6,-2.7),(-5,-2.2),(-4,-2.2),(-3.5,-2.9),(-9.7,-3.6),(-8.7,-4),(-7.6,-3.6),(-9.4,-5.5),(-8.5,-5),(-4.5,6.5),(-4,6.8),(-4.8,5),(-0.2,1.5),(0.2,1.6),(-2,2.5)]

BRAIN_C1 = [(-8,25.5),(-7.7,25.2),(-7.3,25.4),(-7,25.7),(-7.5,24.5),(-7.6,23.9),(-6.3,23.8),(-6,23.4),(-5.5,23.9),(-4.9,23.4),(-4.3,23.1),(-4.1,23),(-4.1,22.1),(-3.7,21.2),(-3.4,20.7),(-2.9,21.7),(-2.7,20.7),(-2.3,21.9),(-1.9,20.7),(-1.3,21.5),(-1.1,20.8),(-0.7,19.8),(-0.9,19.3),(-1.4,20),(-1.7,20.2),(-2,20.3),(-2.2,19.7),(-2.4,19.1),(-3.3,19.2),(-2.5,17.9),(-1.9,17.6),(-0.9,18.3),(-1.2,17.4),(-0.7,16.8),(0.1,18.6),(0.7,18.3),(0.5,20.1),(0.6,26.4),(-4.9,28.8),(-3.9,28.8),(-3,29.9),(-3.2,29.3),(-2.8,29.4),(-2.5,29),(-3.1,28.5),(-2.9,27.9),(-4,27.9),(-3.7,27.6),(-4.2,26.9),(-4.7,26.6),(-5.1,27.6),(-5.5,26),(-4.7,25.4),(-3.8,25.7),(-3.3,26.2),(-2.5,26.9),(-2.5,26),(-3.1,25.2),(-3.8,24.5),(-3.1,24.1),(-2.7,24.3),(-2.7,23.2),(-2.4,22.7),(-1.4,27.4),(-1.3,25.7),(-1.8,25.2),(-1.1,24.8),(-0.6,18.6),(-0.2,17.6),(0.1,17.2),(0.3,16.8),(0.6,16.3),(-0.3,16.8),(0.4,17.4),(0.3,17.9),(-0.4,17.6),(-0.8,16.8),(-2.8,28.2),(-3.5,27.5),(-2.7,27.1),(-3.3,26.7),(-4.5,28.1),(-2.1,18.8),(-1.4,18.9),(-1.6,19.5),(-1,20.2),(0.2,16.1),
(-8,11.7),(-7.7,11.7),(-7.4,11.6),(-7,11.5),(-6.7,11.7),(-6.9,11.2),(-6.2,12.6),(-6.1,11.4),(-5.9,10.8),(-5.7,10.6),(-5.3,10.9),(-5.3,12.6),(-5.1,13.2),
(22.3,-6.1),(22.5,-5.3),(22.6,-4.8),(23,-5.6),(23.2,-3.5),(23.4,-4.5),(23.6,-5.6),(23.7,-4.7),(24,-5.3),(24,-4),(24.2,-4.4),(24.3,-3),(24.5,-2.5),(24.6,-4),(24.7,-3.4),(24.9,-4.5),(25,-2.9),(25.3,-3.9),(25.5,-3.2),(23.8,-3.7),(22.9,-4.3),(24.9,-3.6)]
BRAIN_C2 = [(-5.7,6.8),(-5.4,6.6),(-6.5,6.4),(-6.3,6.4),(-5.2,6.2),(-5,5.5),(-4.2,6.6),(-4,6),(-3.5,5.9),(-3.7,4.8),(-3.3,4.7),(-2.7,5.2),(-2.7,4.7),(-2,5.3),(-7.1,5.7),(-7.5,5),(-7.4,3.9),(-6.9,3.9),(-6.6,3.4),(-5.6,4.1),(-5.3,4.1),(-4.8,4.1),(-4.1,4.3),(-6.1,2.9),(-6.1,2.1),(-7.7,3.4),(-2.9,2.1),(-2.4,2.4),(-2.3,2.7),(-5.1,0.7),(-4.6,1),(-4.2,0.5),(-3.2,0.7),(-2.8,1.2),(-2.4,0.9),(-1.2,0.9),(-3.4,0.1),(-5.3,0),(-2.9,-0.3),(-8,-1.2),(-7.6,-0.8),(-7,-1.2),(-3.5,-1.7),(-2.9,-2.1),(-3.2,-0.9),(-11.6,2.4),(-7.8,11.8),(-7.1,11.2),(-6.9,10.6),(-6.5,10.8),(-6.1,10.6),(10,10.3),
(12,6.6),(12.1,6.2),(12.5,5.5),(12.6,4.2),(12.8,4.6),(13,3.7),(13.3,4.5),(13.4,5.5),(13.7,3.7),(14.1,4.8),(14.3,7.6),(14.6,5.1),(14.7,5.6),(14.7,8.8),(15,5.2),(15.3,7.7),(15.3,5.4),(15.5,8.9),(15.6,5.5),(15.9,6.3),(16,7.1),(16.2,5.4),(16.3,6.5),(16.4,8.9),(16.4,7.6),(16.5,6.7),(16.6,8.4),(16.8,7.5),(17,7.8),(16.6,5.5),(16.2,6),(15.7,7.5),(17,8),
(-5,-3.2),(-6,-3.5),(-7,-3.5),(-4.6,-2.5),(-3.5,-2.3),(-4.3,-6.9),(1.5,-4),(8.9,-7.3),(10.5,-7),(10.7,-6.6),(11.1,-5.8),(6.5,-8.5),(7,-8.1),(-6.2,-3.7)]
BRAIN_C3 = [(-17.9,-7.9),(-17.5,-7.9),(-17,-6.7),(-16.7,-7.5),(-16.5,-8),(-16.3,-5.7),(-16.2,-8.4),(-16,-9.2),(-15.5,-7.6),(-15.3,-8),(-15,-7.1),(-14.8,-8),(-14.6,-7.2),(-14.3,-7.8),(-14.3,-5.5),(-14,-6.5),(-13.8,-4.6),(-13.7,-5.7),(-13.9,-7),(-13.5,-3.5),(-13.5,-9.3),(-13.2,-7.9),(-12.8,-7.9),(-11.7,-3.7),(-11.6,-7.2),(-11,-7),(-11,-7.4),(-9.8,-7.7),(-9,-7.5),(-8.4,-6.1),(-8.2,-7.5),(-8.2,-10.3),(-8,-10.2),(-7.3,-8.2),(-7.2,-7.3),(-7,-8.5),(-6.9,-7),(-7,-3.1),(-6.5,-2.6),(-6.3,-3.6),(-6.3,-8),(-6,-2.2),(-6,-6),(-5.8,-8.7),(-5.5,-3.9),(-5.3,-4.5),(-5.2,-9),(-4.6,-4.5),(-4.4,-8.9),(-4.3,-4.8),(-3.8,-8.5),(-3.5,-10),(-2.8,-9.2),(-6,-11.2),(-5.8,-12.5),(-5.3,-10.8),(-5,-11.9),(-4.8,-12.7),(-4.5,-11),(-4.3,-10.2),(-4.2,-11.7),(-4,-13),(-3.8,-11.2),(-3.5,-11.7),(-3.2,-11),(-4.3,-14),(-14.2,0.3),(-14.1,0.2),(-12,2.1),(-11.8,2.2),(-4.4,-0.4),(-2.5,0.2),(-2.2,0.2),(-1.9,0.1),(-1.6,-0.3),(-1.6,-1),(-1.5,-1.4),(-0.2,-3.4),(0.3,-4.2),(0.6,-4.5),(1.1,-4.7),(1.5,-5)]
BRAIN_C4 = [(-13.6,-1.7),(-3.9,-3.8),(-3.8,-6),(-4.3,-4.9),(-1.1,-8.4),(-1,-8.2),(0.8,-8.9),(1.5,-5),(1.7,-5.2),(3.4,-8.1),(5,-4.9),(5.2,-4.5),(5.3,-4.2),(6.5,-8.4),(7,-7.9),(7.2,-7),(7.3,-7.5),(8.3,-8.5),(8.6,-8.5),(9.6,-8.5),(9.8,-8),(-4,-10.5),(-3.5,-10.6),(-3.2,-12),(-2.8,-10.7),(-2.6,-12.2),(-2.2,-11.2),(-1.8,-11.8),(-1.3,-12.1),(-0.6,-11),(-0.4,-12),(-0.3,-10.3),(-0.2,-10.9),(-0.1,-11.6),(-0.3,-12.6),(1.2,-13.2),(1.4,-12),(1.7,-11.2),(1.8,-9.7),(2,-12.7),(2.1,-11),(2.5,-11.8),(2.8,-13),(3,-11),(3.3,-12.5),(3.5,-10.2),(3.6,-13.1),(3.9,-11.6),(4,-10.3),(4.3,-12),(4.4,-13.6),(4.6,-11.3),(5,-11),(5.2,-12.7),(5.4,-10.5),(5.5,-14.4),(5.7,-12.2),(6,-14),(6.2,-13.5),(6.4,-11),(6.4,-9.7),(6.5,-13),(6.8,-12),(7,-11.5),(7.2,-10.2),(7.3,-11),(7.5,-12),(7.8,-11.3),(8,-11.7),(6.7,-16.9),(1.2,1.5)]
BRAIN_C5 = [(-4.9,-26.4),(-4.4,-25.3),(-4.2,-25.5),(-4,-25.6),(-3.9,-25),(-3.6,-25.3),(-3.2,-24.7),(-4.1,-26.2),(-3.9,-26.8),(-4.2,-27.7),(-3.7,-27),(-3.5,-27.8),(-3.4,-26),(-3.1,-27.4),(-3.4,-29),(-2.8,-27.7),(-2.6,-28.8),(-2.3,-27.6),(-2.1,-28.3),(-2,-27),(-2.2,-29.8),(-1.9,-27.5),(-1.6,-28.7),(-1.2,-28.7),(-0.9,-28.5),(-0.6,-28),(-0.4,-28.3),(-0.1,-28.7),(0,-28.5),(-2.6,-28.4),(-0.5,-4.6),(-3.7,-8.2),(-3.4,-8.2),(-2,-8.8),(5.2,-8),(-2.9,-13.6),(-2.3,-14.3),(-1.8,-13.8),(-4.6,-14.2),(-4.2,-14.2),(-5.3,-14.7)]

KIDNEY_CLUSTERS = [KIDNEY_C1, KIDNEY_C2, KIDNEY_C3, KIDNEY_C4, KIDNEY_C5, KIDNEY_C6, KIDNEY_C7, KIDNEY_C8, KIDNEY_C9, KIDNEY_C10]
LIVER_CLUSTERS = [LIVER_C1, LIVER_C2, LIVER_C3, LIVER_C4, LIVER_C5, LIVER_C6, LIVER_C7, LIVER_C8, LIVER_C9, LIVER_C10]
BRAIN_CLUSTERS = [BRAIN_C1, BRAIN_C2, BRAIN_C3, BRAIN_C4, BRAIN_C5]

# ---- Styling ----
SANS = "Open Sans, sans-serif"
SERIF = "Liberation Serif, serif"
ARIAL = "Liberation Sans, Arial, sans-serif"
GREY = "#777777"
GRID = "#f2f2f2"
BG_LINE = "#dadada"


def fx(p):
    return p / W


def fy(p):
    return 1 - p / H


fig = go.Figure()
annotations = []
shapes = []


def note(x, y, text, size, family, color, anchor="left", bold=False, italic=False):
    label = text
    if bold:
        label = f"<b>{label}</b>"
    if italic:
        label = f"<i>{label}</i>"
    annotations.append(dict(x=fx(x), y=fy(y), xref="paper", yref="paper", text=label, showarrow=False,
                            xanchor=anchor, yanchor="middle", borderpad=0,
                            font=dict(size=size, family=family, color=color)))


def knee_panel(idx, cell_rank, cell_umi, bg_rank, bg_umi, bands, box, xr, yr, x_dtick, title_px, legend_px, key_color):
    left, right, top, bottom = box
    xname, yname = ("xaxis", "yaxis") if idx == 1 else (f"xaxis{idx}", f"yaxis{idx}")
    xref, yref = ("x", "y") if idx == 1 else (f"x{idx}", f"y{idx}")
    # cell curve, one piece per colour band, sharing end points
    start = 0
    for limit, color in bands:
        end = next(i for i, r in enumerate(cell_rank) if r >= limit)
        fig.add_trace(go.Scatter(x=cell_rank[start:end + 1], y=cell_umi[start:end + 1], mode="lines", name="Cells",
                                 line=dict(color=color, width=2), xaxis=xref, yaxis=yref, showlegend=False))
        start = end
    fig.add_trace(go.Scatter(x=bg_rank, y=bg_umi, mode="lines", name="Background",
                             line=dict(color=BG_LINE, width=1.6), xaxis=xref, yaxis=yref, showlegend=False))
    common = dict(type="log", showgrid=True, gridcolor=GRID, gridwidth=1, zeroline=False, showline=True,
                  linecolor="#8a8a8a", linewidth=1, ticks="", tickfont=dict(size=8, family=SANS, color=GREY))
    fig.update_layout({
        xname: dict(common, domain=[fx(left), fx(right)], range=xr, anchor=yref, dtick=x_dtick,
                    title=dict(text="Barcodes", standoff=title_px[0], font=dict(size=8.5, family=SANS, color=GREY))),
        yname: dict(common, domain=[fy(bottom), fy(top)], range=yr, anchor=xref, dtick="D2",
                    title=dict(text="UMI counts", standoff=title_px[1], font=dict(size=8.5, family=SANS, color=GREY))),
    })
    # key in the top right corner of the panel
    lx0, lx1, tx, y0, dy = legend_px
    for row, (name, col, wid) in enumerate([("Cells", key_color, 2.4), ("Background", BG_LINE, 1.6)]):
        y = y0 + row * dy
        shapes.append(dict(type="line", xref="paper", yref="paper", x0=fx(lx0), x1=fx(lx1), y0=fy(y), y1=fy(y),
                           line=dict(color=col, width=wid)))
        note(tx, y, name, 7.5, SANS, GREY)


def tsne_panel(idx, clusters, box, xr, yr, dx, dy, zero_x, zero_y, titlex, legend_px, ytitle_gap):
    left, right, top, bottom = box
    xname, yname, xref, yref = f"xaxis{idx}", f"yaxis{idx}", f"x{idx}", f"y{idx}"
    for i, pts in enumerate(clusters):
        fig.add_trace(go.Scatter(x=[p[0] for p in pts], y=[p[1] for p in pts], mode="markers",
                                 name=f"Cluster {i + 1}", marker=dict(color=PALETTE[i], size=3.4),
                                 xaxis=xref, yaxis=yref, showlegend=False))
    common = dict(showgrid=True, gridcolor=GRID, gridwidth=1, zeroline=True, showline=False, ticks="",
                  tickfont=dict(size=7.5, family=SERIF, color=GREY))
    fig.update_layout({
        xname: dict(common, domain=[fx(left), fx(right)], range=xr, anchor=yref, dtick=dx,
                    zerolinecolor=zero_x[0], zerolinewidth=zero_x[1],
                    title=dict(text="t-SNE1", standoff=15, font=dict(size=8, family=SERIF, color=GREY))),
        yname: dict(common, domain=[fy(bottom), fy(top)], range=yr, anchor=xref, dtick=dy,
                    zerolinecolor=zero_y[0], zerolinewidth=zero_y[1],
                    title=dict(text="t-SNE2", standoff=ytitle_gap, font=dict(size=8, family=SERIF, color=GREY))),
    })
    note(titlex, 514.3, "t-SNE Projection of Cells by Clustering", 10.2, SERIF, "#666666", anchor="center")
    mx, tx = legend_px
    for i in range(len(clusters)):
        y = 535 + 11.4 * i
        shapes.append(dict(type="circle", xref="paper", yref="paper", x0=fx(mx - 1.7), x1=fx(mx + 1.7),
                           y0=fy(y - 1.7), y1=fy(y + 1.7), fillcolor=PALETTE[i], line=dict(width=0)))
        note(tx, y, f"Cluster {i + 1}", 7.3, SERIF, "#666666")


knee_panel(1, KIDNEY_CELL_RANK, KIDNEY_CELL_UMI, KIDNEY_BG_RANK, KIDNEY_BG_UMI, KIDNEY_BANDS,
           (81.3, 396.7, 105, 442.3), [0, 5.457], [-0.285, 5.5], 1, (15, 0), (406.7, 425, 428.3, 114, 11.7), "#3d5a8c")
knee_panel(2, LIVER_CELL_RANK, LIVER_CELL_UMI, LIVER_BG_RANK, LIVER_BG_UMI, LIVER_BANDS,
           (646.7, 962.3, 105, 442.3), [0, 5.46], [-0.266, 5.12], 1, (15, 0), (972.3, 990.5, 993.7, 114, 11.7), "#3d5a8c")
knee_panel(3, BRAIN_CELL_RANK, BRAIN_CELL_UMI, BRAIN_BG_RANK, BRAIN_BG_UMI, BRAIN_BANDS,
           (1170.7, 1487.3, 99.3, 437.3), [0, 5.08], [-0.274, 5.063], "D2", (15, 0), (1497.3, 1515.6, 1519, 108.3, 11.7), "#0a2d6e")

tsne_panel(4, KIDNEY_CLUSTERS, (86.7, 405.7, 526.7, 850), [-48.1, 52], [-59.9, 44], 20, 20,
           ("#b0b0b0", 2), ("#b0b0b0", 2), 256.7, (424, 435), 8)
tsne_panel(5, LIVER_CLUSTERS, (643.3, 961.7, 526.7, 850), [-44.2, 53.3], [-39.9, 53.6], 20, 10,
           ("#8f8f8f", 1.2), ("#8f8f8f", 1.2), 816, (980, 991), 6)
tsne_panel(6, BRAIN_CLUSTERS, (1180.3, 1499, 526.7, 850), [-20.02, 28.2], [-33.4, 33.5], 10, 10,
           ("#a0a0a0", 2), ("#7a7a7a", 1.2), 1347, (1517.3, 1529), 11)

# Tissue headings
HEADINGS = [(63.7, "Kidney", "Non-diseased"), (615.3, "Liver", "Portal inflammation"), (1177.6, "Brain", "Glioblastoma")]
for x, organ, state in HEADINGS:
    note(x, 31.5, organ, 34.3, ARIAL, "#000000", bold=True)
    note(x, 66.7, state, 25, ARIAL, "#000000", italic=True)

# Cell counts written over the rank plots
COUNTS = [(127.5, 401.7, "3830 cells"), (675, 400, "3695 cells"), (1209.5, 401.7, "612 cells")]
for x, y, text in COUNTS:
    note(x, y, text, 29.7, ARIAL, "#000000")

fig.update_layout(width=W, height=H, autosize=False, margin=dict(l=0, r=0, t=0, b=0, autoexpand=False),
                  paper_bgcolor="white", plot_bgcolor="white", showlegend=False, hovermode="closest",
                  annotations=annotations, shapes=shapes)
fig.write_html("out.html", config={"displayModeBar": False})
